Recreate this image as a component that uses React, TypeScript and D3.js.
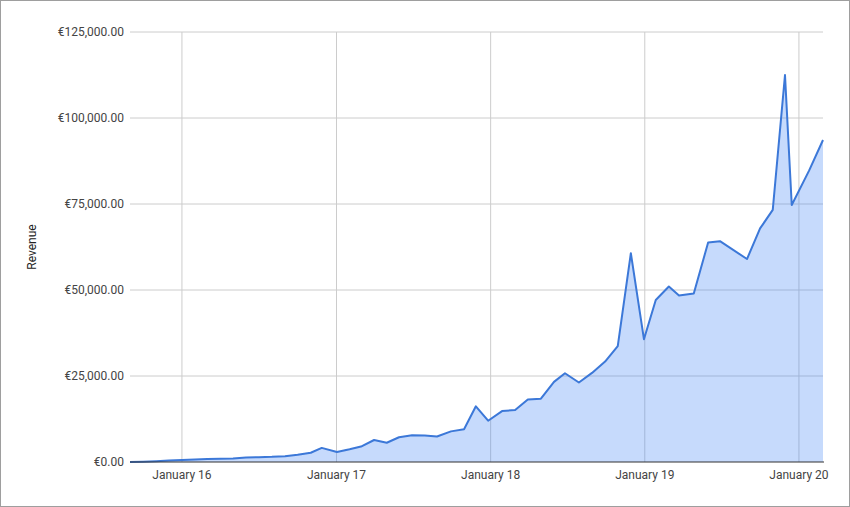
import React from "react";
import * as d3 from "d3";

const dates: string[] = [
  "2015-08-31", "2015-10-01", "2015-11-01", "2015-12-01", "2016-01-01", "2016-02-01",
  "2016-03-01", "2016-04-01", "2016-05-01", "2016-06-01", "2016-07-01", "2016-08-01",
  "2016-09-01", "2016-10-01", "2016-11-01", "2016-11-27", "2017-01-02", "2017-02-01",
  "2017-02-28", "2017-03-31", "2017-04-30", "2017-05-29", "2017-06-29", "2017-07-29",
  "2017-08-27", "2017-09-29", "2017-10-30", "2017-11-27", "2017-12-26", "2018-01-28",
  "2018-02-28", "2018-03-30", "2018-04-30", "2018-05-31", "2018-06-26", "2018-07-29",
  "2018-08-29", "2018-09-29", "2018-10-29", "2018-11-29", "2018-12-30", "2019-01-27",
  "2019-02-27", "2019-03-23", "2019-04-27", "2019-05-31", "2019-06-28", "2019-08-31",
  "2019-10-01", "2019-10-31", "2019-11-29", "2019-12-15", "2020-01-25", "2020-02-27",
];

const revenue: number[] = [
  0, 100, 250, 400, 600, 750,
  850, 950, 1000, 1300, 1400, 1500,
  1700, 2100, 2700, 4100, 2900, 3700,
  4500, 6400, 5600, 7200, 7800, 7700,
  7400, 8900, 9500, 16200, 12000, 14800,
  15100, 18200, 18400, 23300, 25800, 23100,
  25900, 29200, 33700, 60700, 35700, 47100,
  51000, 48400, 49000, 63800, 64200, 59000,
  67900, 73300, 112500, 74700, 84700, 93600,
];

const yTicks: number[] = [0, 25000, 50000, 75000, 100000, 125000];
const xTickDates: string[] = ["2016-01-01", "2017-01-01", "2018-01-01", "2019-01-01", "2020-01-01"];
const yTitle = "Revenue";

const W = 850;
const H = 507;
const M = { left: 130, right: 823, top: 32, bottom: 462 };

export default function App() {
  const parse = d3.utcParse("%Y-%m-%d");
  const pts = dates.map((d, i) => ({ date: parse(d) as Date, value: revenue[i] }));

  const x = d3
    .scaleUtc()
    .domain(d3.extent(pts, (p) => p.date) as [Date, Date])
    .range([M.left, M.right]);
  const y = d3.scaleLinear().domain([0, 125000]).range([M.bottom, M.top]);

  const line = d3
    .line<{ date: Date; value: number }>()
    .x((p) => x(p.date))
    .y((p) => y(p.value));
  const area = d3
    .area<{ date: Date; value: number }>()
    .x((p) => x(p.date))
    .y0(y(0))
    .y1((p) => y(p.value));

  const fmtY = (v: number) => "€" + d3.format(",.2f")(v);
  const fmtX = d3.utcFormat("%B %y");
  const font = "Roboto, 'Noto Sans', sans-serif";

  return (
    <div style={{ position: "fixed", left: 0, top: 0 }}>
      <svg width={W} height={H} style={{ display: "block" }}>
        <rect x={0} y={0} width={W} height={H} fill="#ffffff" />
        <rect x={0.5} y={0.5} width={W - 1} height={H - 1} fill="none" stroke="#9e9e9e" strokeWidth={1} />
        {yTicks.map((t) => (
          <g key={"y" + t}>
            {t !== 0 && (
              <line x1={M.left} x2={M.right} y1={y(t)} y2={y(t)} stroke="#cccccc" strokeWidth={1} />
            )}
            <text
              x={124}
              y={y(t)}
              dy="0.35em"
              textAnchor="end"
              fontFamily={font}
              fontSize={12}
              fill="#444444"
            >
              {fmtY(t)}
            </text>
          </g>
        ))}
        {xTickDates.map((s) => {
          const dt = parse(s) as Date;
          return (
            <g key={"x" + s}>
              <line x1={x(dt)} x2={x(dt)} y1={M.top} y2={M.bottom} stroke="#cccccc" strokeWidth={1} />
              <text
                x={x(dt)}
                y={479}
                textAnchor="middle"
                fontFamily={font}
                fontSize={12}
                fill="#444444"
              >
                {fmtX(dt)}
              </text>
            </g>
          );
        })}
        <path d={area(pts) || ""} fill="#4285f4" fillOpacity={0.3} />
        <path d={line(pts) || ""} fill="none" stroke="#3c78d8" strokeWidth={2} strokeLinejoin="round" />
        <line x1={M.left} x2={M.right + 1} y1={y(0)} y2={y(0)} stroke="#333333" strokeWidth={1} />
        <text
          transform={`translate(36,${(M.top + M.bottom) / 2}) rotate(-90)`}
          textAnchor="middle"
          fontFamily={font}
          fontSize={12}
          fill="#222222"
        >
          {yTitle}
        </text>
      </svg>
    </div>
  );
}
